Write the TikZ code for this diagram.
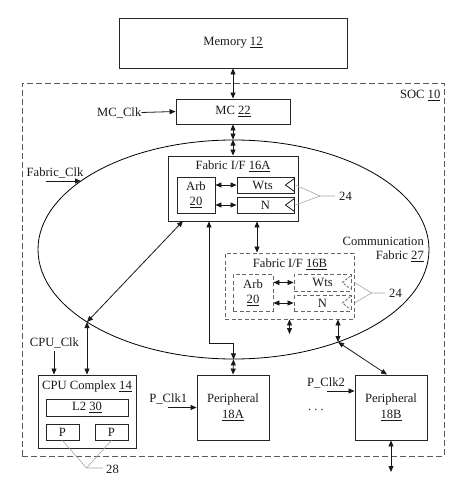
\documentclass[tikz,border=0pt]{standalone}
\usepackage{fontspec}
\setmainfont{Liberation Serif}
\usetikzlibrary{arrows.meta,shapes.geometric,calc}
\begin{document}
\begin{tikzpicture}[x=1pt,y=-1pt,
  every node/.style={font=\fontsize{12.6}{16}\selectfont, inner sep=0pt, text=black!90},
  box/.style={draw=black!85, line width=0.9pt, rectangle, align=center},
  dbox/.style={draw=black!60, line width=0.9pt, dash pattern=on 4pt off 2.5pt, rectangle, align=center},
  conn/.style={draw=black!90, line width=0.8pt, {Triangle[length=6pt,width=5pt]}-{Triangle[length=6pt,width=5pt]}},
  clk/.style={draw=black!90, line width=0.8pt, -{Triangle[length=6pt,width=5pt]}},
  lead/.style={draw=black!35, line width=0.6pt},
  tmark/.style={draw=black!90, line width=0.8pt},
  dtmark/.style={draw=black!60, line width=0.8pt, dash pattern=on 2.5pt off 1.5pt}]
\useasboundingbox (0,0) rectangle (474,497);

% SOC
\node[draw=black!65, line width=0.9pt, dash pattern=on 6pt off 3pt, minimum width=422pt, minimum height=373pt] (soc) at (233,269.5) {};
\node[anchor=east] (soclbl) at (440.5,95.7) {SOC \underline{10}};

% ellipse
\node[ellipse, draw=black, line width=0.8pt, minimum width=391pt, minimum height=219pt] (fab) at (233.5,249.5) {};
\node[align=right, anchor=east, font=\fontsize{12.6}{14}\selectfont] (commlbl) at (424,249.5) {Communication\\Fabric \underline{27}};

% boxes
\node[box, minimum width=228pt, minimum height=50pt] (mem) at (233,43) {Memory \underline{12}};
\node[box, minimum width=114pt, minimum height=25pt] (mc) at (233,111.5) {MC \underline{22}};

\node[box, minimum width=130pt, minimum height=65pt] (fabA) at (233,188.5) {};
\node (tA) at (233,166.5) {Fabric I/F \underline{16A}};
\node[box, minimum width=38pt, minimum height=36pt] (arbA) at (196,195) {Arb\\[-1pt]\underline{20}};
\node[box, minimum width=57pt, minimum height=16pt] (wtsA) at (265.5,185) {\hspace*{-6pt}Wts};
\node[box, minimum width=57pt, minimum height=16pt] (nA) at (265.5,205) {N};

\node[dbox, minimum width=129pt, minimum height=66pt] (fabB) at (289.5,286) {};
\node (tB) at (290,264.3) {Fabric I/F \underline{16B}};
\node[dbox, minimum width=40pt, minimum height=37pt] (arbB) at (253,292.5) {Arb\\[-1pt]\underline{20}};
\node[dbox, minimum width=57pt, minimum height=17pt] (wtsB) at (322.5,282.5) {Wts};
\node[dbox, minimum width=57pt, minimum height=16pt] (nB) at (322.5,303) {N};

\node[box, minimum width=98pt, minimum height=73pt] (cpu) at (87,411.5) {};
\node (tCPU) at (87,386.5) {CPU Complex \underline{14}};
\node[box, minimum width=82pt, minimum height=17pt] (l2) at (87,407.5) {L2 \underline{30}};
\node[box, minimum width=33pt, minimum height=16pt] (pL) at (62.5,432) {P};
\node[box, minimum width=33pt, minimum height=16pt] (pR) at (111.5,432) {P};

\node[box, minimum width=72pt, minimum height=65pt] (perA) at (233,407.5) {Peripheral\\\underline{18A}};
\node[box, minimum width=72pt, minimum height=65pt] (perB) at (391,407.5) {Peripheral\\\underline{18B}};

% clock labels
\node[anchor=east] (mcclk) at (141.5,112.5) {MC\_Clk};
\node (fclk) at (55,173) {Fabric\_Clk};
\node (cpuclk) at (54.5,343.3) {CPU\_Clk};
\node (pclk1) at (168.3,399.3) {P\_Clk1};
\node (pclk2) at (326,383.3) {P\_Clk2};
\node (dots) at (316,410) {.\ .\ .};

% coordinates
\coordinate (eFclk) at (81,181);
\coordinate (fclkS) at (46,181);
\coordinate (eCPU) at (87,322);
\coordinate (eB) at (338,342);
\coordinate (bend) at (209,343);
\coordinate (x257) at (257,0);
\coordinate (fbStub) at (289.5,334);
\coordinate (pbStub) at (391,472);
\coordinate (pclk1S) at (168,407.5);
\coordinate (pclk2S) at (327,391);
\coordinate (cpuclkS) at (54,351);
\coordinate (fabAin) at (183,221);

% connectors
\draw[conn] (mem.south) -- (mc.north);
\draw[conn] (mc.south) -- (mc.south |- fab.north);
\draw[conn] (mc.south |- fab.north) -- (fabA.north);
\draw[clk] (mcclk.east) -- (mc.west);
\draw[clk] (fclkS) -- (eFclk);

\draw[conn] (arbA.east |- wtsA.west) -- (wtsA.west);
\draw[conn] (arbA.east |- nA.west) -- (nA.west);
\draw[conn] (arbB.east |- wtsB.west) -- (wtsB.west);
\draw[conn] (arbB.east |- nB.west) -- (nB.west);

\draw[conn] (x257 |- fabA.south) -- (x257 |- fabB.north);
\draw[conn] (fabB.south) -- (fbStub);
\draw[conn] (eB |- fabB.south) -- (eB);
\draw[conn] (eB) -- ($(perB.north)+(-4,0)$);
\draw[conn] (perB.south) -- (pbStub);
\draw[clk] (pclk2S) -- (pclk2S -| perB.west);
\draw[clk] (pclk1S) -- (perA.west);

\draw[conn] (bend |- fabA.south) -- (bend) -| (fab.south);
\draw[conn] (fab.south) -- (perA.north);

\draw[conn] (eCPU) -- (cpu.north);
\draw[conn] (eCPU) -- (fabAin);
\draw[clk] (cpuclkS) -- (cpuclkS |- cpu.north);

% triangle marks
\foreach \b in {wtsA,nA}{
  \draw[tmark] ($(\b.east)+(0,-6.5)$) -- ($(\b.east)+(-9,0)$) -- ($(\b.east)+(0,6.5)$);
}
\foreach \b in {wtsB,nB}{
  \draw[dtmark] ($(\b.east)+(-1,-6.5)$) -- ($(\b.east)+(-9,0)$) -- ($(\b.east)+(-1,6.5)$);
}

% reference leads
\node[anchor=west] (l24a) at (339,196) {24};
\coordinate (j24a) at (320,196);
\draw[lead] ($(wtsA.east)+(1,0)$) -- (j24a) -- ($(l24a.west)+(-4,0)$);
\draw[lead] ($(nA.east)+(1,0)$) -- (j24a);

\node[anchor=west] (l24b) at (389,293) {24};
\coordinate (j24b) at (371.5,293);
\draw[lead] ($(wtsB.east)+(3,0)$) -- (j24b) -- ($(l24b.west)+(-4,0)$);
\draw[lead] ($(nB.east)+(3,0)$) -- (j24b);

\node[anchor=west] (l28) at (106,469) {28};
\coordinate (j28) at (86.5,468);
\draw[lead] (pL.south) -- (j28) -- ($(l28.west)+(-3,-1)$);
\draw[lead] (pR.south) -- (j28);
\end{tikzpicture}
\end{document}
